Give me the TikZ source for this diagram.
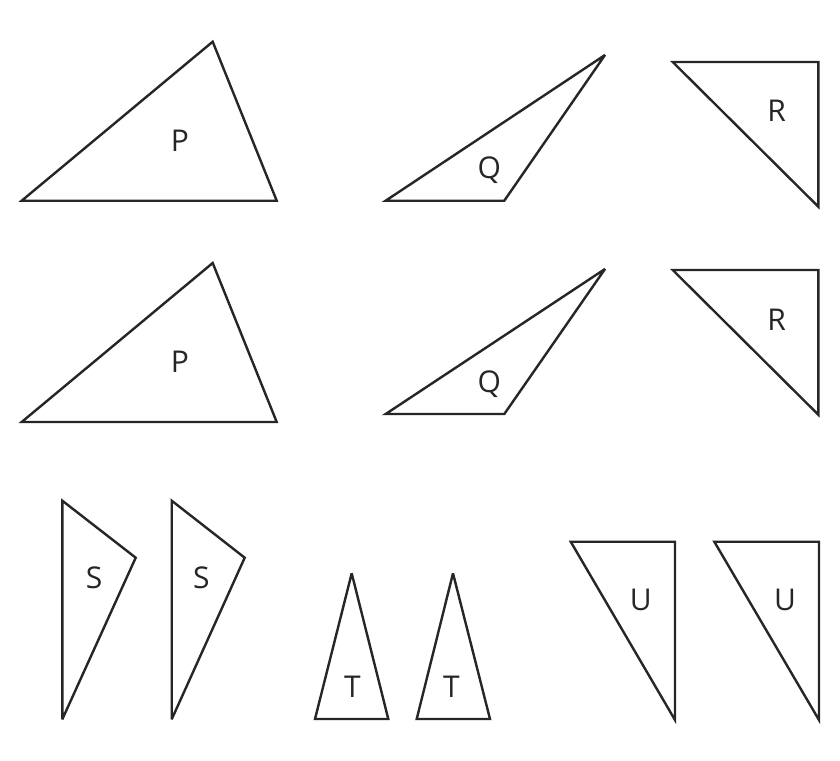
\documentclass[tikz,border=0pt]{standalone}
\usepackage{fontspec}
\setmainfont{Open Sans}
\begin{document}
\begin{tikzpicture}[x=1pt,y=-1pt,
  tri/.style={draw=black!85,line width=2.4pt,line join=miter,miter limit=4},
  lbl/.style={font=\fontsize{30}{36}\selectfont,text=black!85,inner sep=0pt,anchor=center}]
\useasboundingbox[fill=white] (0,0) rectangle (840,760);
% P
\draw[tri] (21.7,200.7) -- (276.7,200.7) -- (212.7,41.7) -- cycle;
\node[lbl] (p1) at (180,141) {P};
\draw[tri] (21.7,422) -- (276.7,422) -- (212.7,263) -- cycle;
\node[lbl] (p2) at (180,362) {P};
% Q
\draw[tri] (385.7,200.7) -- (504.3,200.7) -- (605,55) -- cycle;
\node[lbl] (q1) at (489.3,170) {Q};
\draw[tri] (385.7,414) -- (504.3,414) -- (605,269) -- cycle;
\node[lbl] (q2) at (489.3,384) {Q};
% R
\draw[tri] (672.7,62) -- (818.3,62) -- (818.3,206.7) -- cycle;
\node[lbl] (r1) at (776.7,111) {R};
\draw[tri] (672.7,270) -- (818.3,270) -- (818.3,414.7) -- cycle;
\node[lbl] (r2) at (776.7,320) {R};
% S
\draw[tri] (62.3,500.7) -- (135.7,557.7) -- (62.3,719.3) -- cycle;
\node[lbl] (s1) at (94,578) {S};
\draw[tri] (171.7,500.7) -- (244.7,557.7) -- (171.7,719.3) -- cycle;
\node[lbl] (s2) at (201.3,578) {S};
% T
\draw[tri] (351.7,573.3) -- (315,719) -- (388.3,719) -- cycle;
\node[lbl] (t1) at (352.3,687) {T};
\draw[tri] (453,573.3) -- (416.7,719) -- (490,719) -- cycle;
\node[lbl] (t2) at (451.3,687) {T};
% U
\draw[tri] (570.7,541.7) -- (675,541.7) -- (675,720) -- cycle;
\node[lbl] (u1) at (640.7,600) {U};
\draw[tri] (714.3,541.7) -- (819,541.7) -- (819,720) -- cycle;
\node[lbl] (u2) at (785,600) {U};
\end{tikzpicture}
\end{document}
